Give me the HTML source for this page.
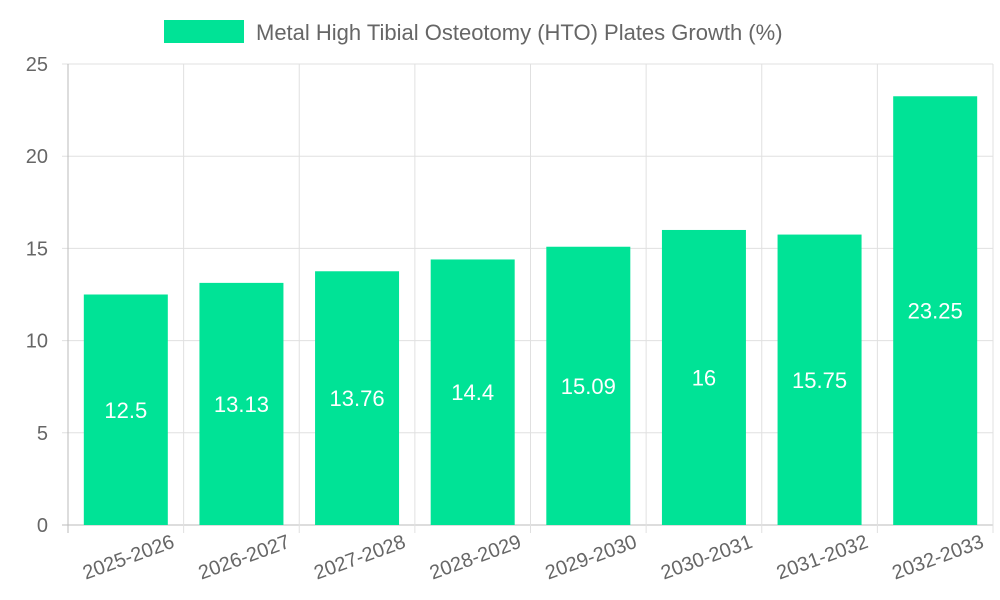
<!DOCTYPE html>
<html><head><meta charset="utf-8"><style>
body{margin:0;background:#fff;}
svg{display:block;font-family:"Liberation Sans",sans-serif;}
</style></head><body>
<svg id="chart" width="1000" height="600">
<g>
<rect x="164" y="20" width="80" height="23" fill="#00e396"/>
<text x="256" y="40" font-size="22" fill="#666">Metal High Tibial Osteotomy (HTO) Plates Growth (%)</text>
</g>
<g id="grid"></g>
<g id="bars"></g>
<g id="axes"></g>
</svg>
<script>
const categories=["2025-2026","2026-2027","2027-2028","2028-2029","2029-2030","2030-2031","2031-2032","2032-2033"];
const values=[12.5,13.13,13.76,14.4,15.09,16,15.75,23.25];
const yTicks=[0,5,10,15,20,25];
const NS="http://www.w3.org/2000/svg";
const L=68,R=993,T=64,B=525,yMax=25;
const y=v=>B-(v/yMax)*(B-T);
const bw=(R-L)/categories.length;
const x=i=>L+i*bw;
function mk(t,a,p){const e=document.createElementNS(NS,t);for(const k in a)e.setAttribute(k,a[k]);p.appendChild(e);return e;}
const grid=document.getElementById('grid'),bars=document.getElementById('bars'),axes=document.getElementById('axes');
yTicks.forEach(v=>{
 const ln=mk('line',{x1:L-6,x2:R,y1:y(v),y2:y(v),stroke:v===0?'#bbb':'#e0e0e0','stroke-width':1},grid);
 
 
 const t=mk('text',{x:L-20,y:y(v)+7,'font-size':20,fill:'#666','text-anchor':'end'},axes);
 t.textContent=v;
 
 
});
for(let i=0;i<=categories.length;i++){
 const ln=mk('line',{x1:x(i),x2:x(i),y1:T,y2:B+8,stroke:i===0?'#bbb':'#e0e0e0','stroke-width':1},grid);
 
 
}
categories.forEach((c,i)=>{
 const cx=x(i)+bw/2,w=84;
 const r=mk('rect',{x:cx-w/2,y:y(values[i]),width:w,height:B-y(values[i]),fill:'#00e396'},bars);
 
 
 const t=mk('text',{x:cx,y:(y(values[i])+B)/2+8,'font-size':22,fill:'#fff','text-anchor':'middle'},bars);
 t.textContent=values[i];
 
 
 const xl=mk('text',{x:x(i+1)-8,y:B+22,'font-size':20,fill:'#666','text-anchor':'end',transform:`rotate(-20 ${x(i+1)-8} ${B+22})`},axes);
 xl.textContent=c;
 
 
});
</script>
</body></html>
